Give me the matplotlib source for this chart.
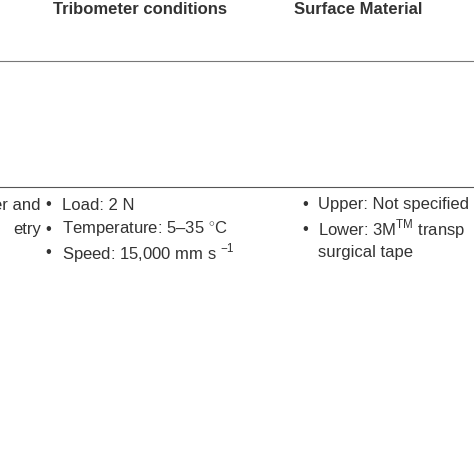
import matplotlib.pyplot as plt

W, H = 474, 474
headers = ["Tribometer conditions", "Surface Material"]
header_x = [140, 358]
left_tail = ["er and", "etry"]
tribo_items = ["Load: 2 N", "Temperature: 5–35 $^{\\circ}$C", "Speed: 15,000 mm s $^{-1}$"]
surface_items = ["Upper: Not specified", "Lower: 3M$^{\\mathrm{TM}}$ transp", None]
surface_extra = "surgical tape"
rows_y = [205, 229, 253]

plt.rcParams['font.family'] = ['Liberation Sans', 'DejaVu Sans']
plt.rcParams['mathtext.fontset'] = 'custom'
plt.rcParams['mathtext.rm'] = 'Liberation Sans'
fig = plt.figure(figsize=(W / 100, H / 100), dpi=100)
ax = fig.add_axes([0, 0, 1, 1])
ax.set_xlim(0, W)
ax.set_ylim(H, 0)
ax.axis('off')

fs = 12
col = '#333333'
for h, x in zip(headers, header_x):
    ax.text(x, 9, h, ha='center', va='center', fontsize=fs, fontweight='bold', color=col)

ax.axhline(61, color='#777777', lw=0.8)
ax.axhline(187, color='#555555', lw=0.8)

for t, y in zip(left_tail, rows_y):
    ax.text(41, y, t, ha='right', va='center', fontsize=fs, color=col)
for t, y in zip(tribo_items, rows_y):
    ax.text(45, y, "•", ha='left', va='center', fontsize=fs, color=col)
    ax.text(62, y, t, ha='left', va='center', fontsize=fs, color=col)
for t, y in zip(surface_items, rows_y):
    if t is None:
        ax.text(318, y, surface_extra, ha='left', va='center', fontsize=fs, color=col)
        continue
    ax.text(302, y, "•", ha='left', va='center', fontsize=fs, color=col)
    ax.text(318, y, t, ha='left', va='center', fontsize=fs, color=col)

fig.savefig("out.png", dpi=100)
